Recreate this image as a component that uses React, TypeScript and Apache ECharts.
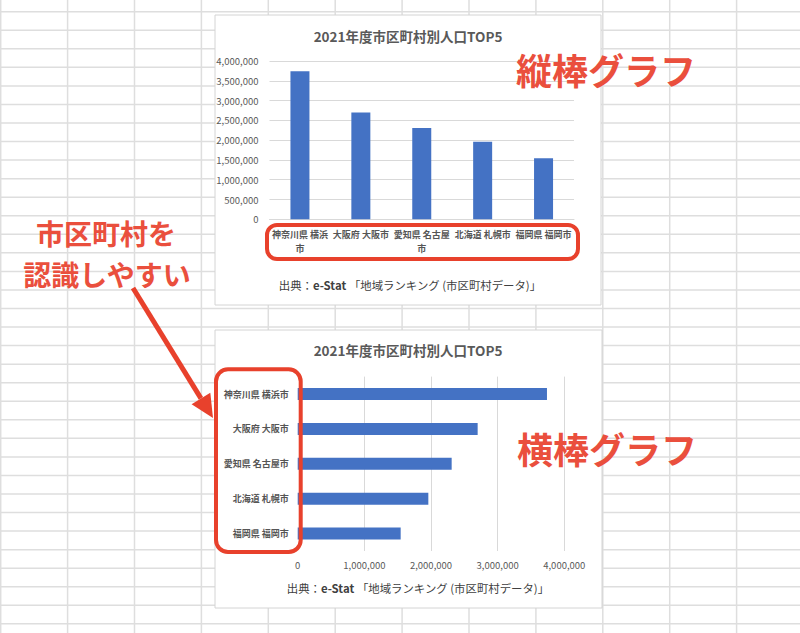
import React, { useEffect, useRef } from "react";
import * as echarts from "echarts";

const categories = ["神奈川県 横浜市", "大阪府 大阪市", "愛知県 名古屋市", "北海道 札幌市", "福岡県 福岡市"];
const population = [3740000, 2700000, 2310000, 1960000, 1545000];
const chartTitle = "2021年度市区町村別人口TOP5";
const annotationVertical = "縦棒グラフ";
const annotationHorizontal = "横棒グラフ";
const annotationNote = ["市区町村を", "認識しやすい"];

const FONT = "'Noto Sans CJK JP', 'Noto Sans', sans-serif";
const GRAY = "#595959";
const LABEL = "#555555";
const BAR = "#4472C4";
const RED = "#e8412c";
const RED_TEXT = "#ea4f3d";
const SHEET = "#dedede";

const fmt = (v: number) => v.toLocaleString("en-US");
const wrap = (v: string) => (v.length > 7 ? v.slice(0, 7) + "\n" + v.slice(7) : v);

function sheetLines() {
  const els: any[] = [];
  for (let k = 0; k * 18.55 + 11.7 < 633; k++) {
    const y = 11.7 + k * 18.55;
    els.push({ type: "line", z: 0, silent: true, shape: { x1: 0, y1: y, x2: 800, y2: y }, style: { stroke: SHEET, lineWidth: 1.5 } });
  }
  for (let k = 0; k * 66.9 + 0.7 < 800; k++) {
    const x = 0.7 + k * 66.9;
    els.push({ type: "line", z: 0, silent: true, shape: { x1: x, y1: 0, x2: x, y2: 633 }, style: { stroke: SHEET, lineWidth: 1.5 } });
  }
  return els;
}

function sourceText(cx: number, cy: number) {
  return {
    type: "text",
    z: 20,
    x: cx,
    y: cy,
    style: {
      text: "{a|出典：}{b|e-Stat}{a| 「地域ランキング (市区町村データ)」}",
      align: "center",
      verticalAlign: "middle",
      rich: {
        a: { fontSize: 11.4, fontFamily: FONT, fill: "#404040" },
        b: { fontSize: 11.4, fontFamily: FONT, fill: "#404040", fontWeight: "bold" },
      },
    },
  };
}

function titleText(cx: number, cy: number) {
  return {
    type: "text",
    z: 20,
    x: cx,
    y: cy,
    style: { text: chartTitle, align: "center", verticalAlign: "middle", fontSize: 13.5, fontWeight: "bold", fontFamily: FONT, fill: GRAY },
  };
}

function redText(text: string, x: number, y: number, size: number, align = "left") {
  return {
    type: "text",
    z: 30,
    x,
    y,
    style: { text, align, verticalAlign: "middle", fontSize: size, fontWeight: "bold", fontFamily: FONT, fill: RED_TEXT },
  };
}

export default function App() {
  const ref = useRef<HTMLDivElement>(null);
  useEffect(() => {
    if (!ref.current) return;
    const chart = echarts.init(ref.current, null, { renderer: "svg" });
    const tip = [213, 418];
    const tail = [133, 288];
    const dx = tip[0] - tail[0];
    const dy = tip[1] - tail[1];
    const len = Math.sqrt(dx * dx + dy * dy);
    const ux = dx / len;
    const uy = dy / len;
    const headLen = 23;
    const half = 11;
    const bx = tip[0] - ux * headLen;
    const by = tip[1] - uy * headLen;

    const option: any = {
      animation: false,
      backgroundColor: "#ffffff",
      grid: [
        { left: 269.5, top: 61, width: 304.5, height: 158.3, containLabel: false },
        { left: 297.7, top: 376.6, width: 266.6, height: 174.4, containLabel: false },
      ],
      xAxis: [
        {
          gridIndex: 0,
          type: "category",
          data: categories,
          z: 3,
          axisLine: { lineStyle: { color: "#d9d9d9" } },
          axisTick: { show: false },
          axisLabel: { formatter: wrap, fontSize: 9, fontWeight: "bold", lineHeight: 14, color: LABEL, fontFamily: FONT, margin: 8, interval: 0 },
        },
        {
          gridIndex: 1,
          type: "value",
          min: 0,
          max: 4000000,
          interval: 1000000,
          z: 3,
          axisLine: { show: false },
          axisTick: { show: false },
          splitLine: { showMinLine: false, lineStyle: { color: "#d9d9d9" } },
          axisLabel: { formatter: fmt, fontSize: 9.5, color: GRAY, fontFamily: FONT, margin: 9 },
        },
      ],
      yAxis: [
        {
          gridIndex: 0,
          type: "value",
          min: 0,
          max: 4000000,
          interval: 500000,
          z: 3,
          axisLine: { show: false },
          axisTick: { show: false },
          splitLine: { lineStyle: { color: "#d9d9d9" } },
          axisLabel: { formatter: fmt, fontSize: 9.5, color: GRAY, fontFamily: FONT, margin: 11 },
        },
        {
          gridIndex: 1,
          type: "category",
          data: categories,
          inverse: true,
          z: 3,
          axisLine: { show: false },
          axisTick: { show: false },
          axisLabel: { fontSize: 9, fontWeight: "bold", color: LABEL, fontFamily: FONT, margin: 9, interval: 0 },
        },
      ],
      series: [
        { type: "bar", xAxisIndex: 0, yAxisIndex: 0, data: population, barWidth: 19, itemStyle: { color: BAR }, z: 4 },
        { type: "bar", xAxisIndex: 1, yAxisIndex: 1, data: population, barWidth: 12, itemStyle: { color: BAR }, z: 4 },
      ],
      graphic: [
        ...sheetLines(),
        { type: "rect", z: 1, silent: true, shape: { x: 215, y: 15, width: 386, height: 290 }, style: { fill: "#ffffff", stroke: "#d4d4d4", lineWidth: 1 } },
        { type: "rect", z: 1, silent: true, shape: { x: 215, y: 330, width: 387, height: 278 }, style: { fill: "#ffffff", stroke: "#d4d4d4", lineWidth: 1 } },
        titleText(408, 36),
        titleText(408, 350),
        sourceText(410, 285),
        sourceText(418, 588),
        { type: "rect", z: 30, silent: true, shape: { x: 267, y: 225, width: 311, height: 34, r: 10 }, style: { fill: "none", stroke: RED, lineWidth: 4 } },
        { type: "rect", z: 30, silent: true, shape: { x: 216, y: 369.3, width: 84.7, height: 182.7, r: 12 }, style: { fill: "none", stroke: RED, lineWidth: 4 } },
        redText(annotationVertical, 516, 69, 36),
        redText(annotationHorizontal, 517, 448, 36),
        redText(annotationNote[0], 106, 233, 28, "center"),
        redText(annotationNote[1], 107, 274, 28, "center"),
        { type: "line", z: 30, silent: true, shape: { x1: tail[0], y1: tail[1], x2: bx, y2: by }, style: { stroke: RED, lineWidth: 5 } },
        {
          type: "polygon",
          z: 30,
          silent: true,
          shape: { points: [tip, [bx - uy * half, by + ux * half], [bx + uy * half, by - ux * half]] },
          style: { fill: RED },
        },
      ],
    };
    chart.setOption(option);
    return () => chart.dispose();
  }, []);
  return <div ref={ref} style={{ position: "absolute", left: 0, top: 0, width: 800, height: 633 }} />;
}
